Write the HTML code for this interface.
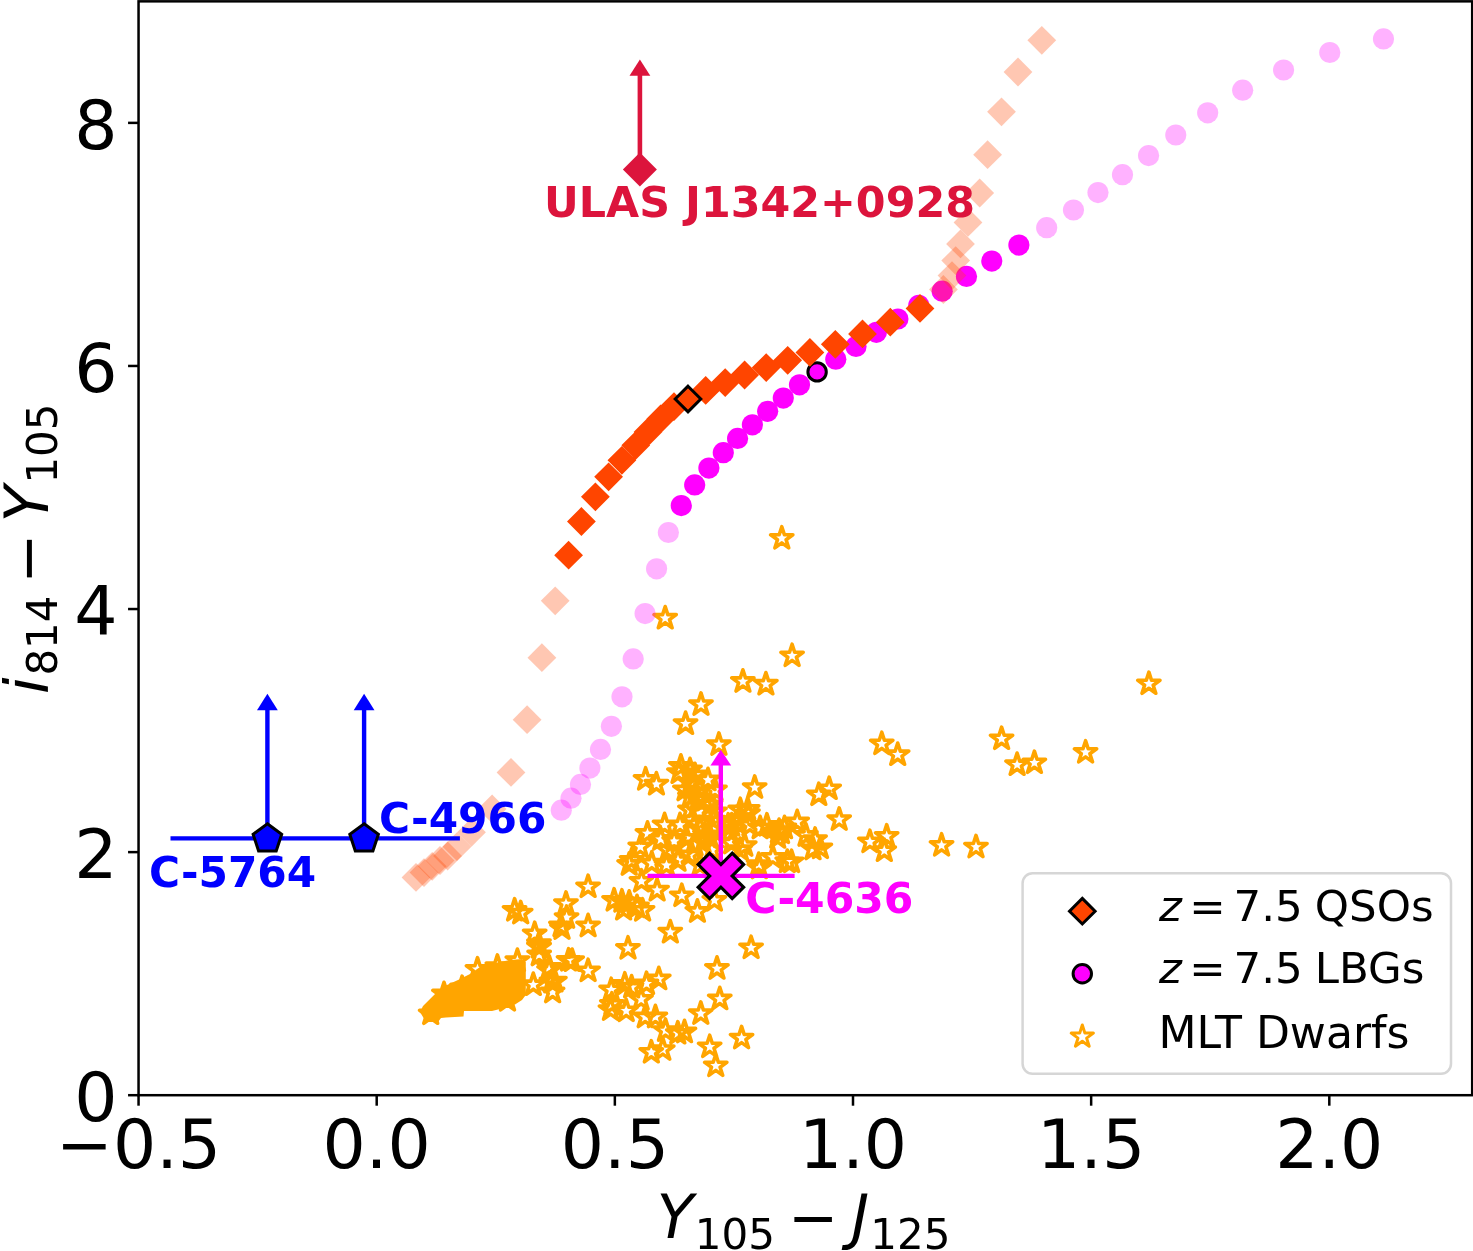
<!DOCTYPE html>
<html><head><meta charset="utf-8"><title>plot</title>
<style>html,body{margin:0;padding:0;background:#fff;}svg{display:block;}</style>
</head><body>
<svg width="1473" height="1251" viewBox="0 0 1473 1251">
<rect x="0" y="0" width="1473" height="1251" fill="#ffffff"/>
<defs><clipPath id="ax"><rect x="138.5" y="1.3" width="1333.6" height="1093.9"/></clipPath></defs>
<g clip-path="url(#ax)">
<path fill="none" stroke="#ffa500" stroke-width="3.6" stroke-linejoin="round" d="M781.8 526.7L784.4 534.8L792.9 534.8L786.1 539.8L788.7 547.9L781.8 542.9L774.9 547.9L777.5 539.8L770.7 534.8L779.2 534.8ZM665.2 606.5L667.8 614.6L676.3 614.6L669.5 619.6L672.1 627.7L665.2 622.7L658.3 627.7L660.9 619.6L654.1 614.6L662.6 614.6ZM792.1 644.2L794.7 652.3L803.2 652.3L796.4 657.3L799.0 665.4L792.1 660.4L785.2 665.4L787.8 657.3L781.0 652.3L789.5 652.3ZM742.9 669.8L745.5 677.9L754.0 677.9L747.2 682.9L749.8 691.0L742.9 686.0L736.0 691.0L738.6 682.9L731.8 677.9L740.3 677.9ZM765.9 672.5L768.5 680.6L777.0 680.6L770.2 685.6L772.8 693.7L765.9 688.7L759.0 693.7L761.6 685.6L754.8 680.6L763.3 680.6ZM701.0 692.9L703.6 701.0L712.1 701.0L705.3 706.0L707.9 714.1L701.0 709.1L694.1 714.1L696.7 706.0L689.9 701.0L698.4 701.0ZM685.6 712.0L688.2 720.1L696.7 720.1L689.9 725.1L692.5 733.2L685.6 728.2L678.7 733.2L681.3 725.1L674.5 720.1L683.0 720.1ZM718.9 732.9L721.5 741.0L730.0 741.0L723.2 746.0L725.8 754.1L718.9 749.1L712.0 754.1L714.6 746.0L707.8 741.0L716.3 741.0ZM645.6 767.7L648.2 775.8L656.7 775.8L649.9 780.8L652.5 788.9L645.6 783.9L638.7 788.9L641.3 780.8L634.5 775.8L643.0 775.8ZM656.4 772.5L659.0 780.6L667.5 780.6L660.7 785.6L663.3 793.7L656.4 788.7L649.5 793.7L652.1 785.6L645.3 780.6L653.8 780.6ZM1148.9 672.1L1151.5 680.2L1160.0 680.2L1153.2 685.2L1155.8 693.3L1148.9 688.3L1142.0 693.3L1144.6 685.2L1137.8 680.2L1146.3 680.2ZM881.8 732.2L884.4 740.3L892.9 740.3L886.1 745.3L888.7 753.4L881.8 748.4L874.9 753.4L877.5 745.3L870.7 740.3L879.2 740.3ZM897.7 743.0L900.3 751.1L908.8 751.1L902.0 756.1L904.6 764.2L897.7 759.2L890.8 764.2L893.4 756.1L886.6 751.1L895.1 751.1ZM1001.6 727.1L1004.2 735.2L1012.7 735.2L1005.9 740.2L1008.5 748.3L1001.6 743.3L994.7 748.3L997.3 740.2L990.5 735.2L999.0 735.2ZM1017.1 753.0L1019.7 761.1L1028.2 761.1L1021.4 766.1L1024.0 774.2L1017.1 769.2L1010.2 774.2L1012.8 766.1L1006.0 761.1L1014.5 761.1ZM1034.4 751.1L1037.0 759.2L1045.5 759.2L1038.7 764.2L1041.3 772.3L1034.4 767.3L1027.5 772.3L1030.1 764.2L1023.3 759.2L1031.8 759.2ZM1085.6 740.7L1088.2 748.8L1096.7 748.8L1089.9 753.8L1092.5 761.9L1085.6 756.9L1078.7 761.9L1081.3 753.8L1074.5 748.8L1083.0 748.8ZM941.6 833.7L944.2 841.8L952.7 841.8L945.9 846.8L948.5 854.9L941.6 849.9L934.7 854.9L937.3 846.8L930.5 841.8L939.0 841.8ZM976.0 835.4L978.6 843.5L987.1 843.5L980.3 848.5L982.9 856.6L976.0 851.6L969.1 856.6L971.7 848.5L964.9 843.5L973.4 843.5ZM869.9 830.2L872.5 838.3L881.0 838.3L874.2 843.3L876.8 851.4L869.9 846.4L863.0 851.4L865.6 843.3L858.8 838.3L867.3 838.3ZM886.7 824.6L889.3 832.7L897.8 832.7L891.0 837.7L893.6 845.8L886.7 840.8L879.8 845.8L882.4 837.7L875.6 832.7L884.1 832.7ZM884.3 839.0L886.9 847.1L895.4 847.1L888.6 852.1L891.2 860.2L884.3 855.2L877.4 860.2L880.0 852.1L873.2 847.1L881.7 847.1ZM754.7 775.9L757.3 784.0L765.8 784.0L759.0 789.0L761.6 797.1L754.7 792.1L747.8 797.1L750.4 789.0L743.6 784.0L752.1 784.0ZM829.2 777.1L831.8 785.2L840.3 785.2L833.5 790.2L836.1 798.3L829.2 793.3L822.3 798.3L824.9 790.2L818.1 785.2L826.6 785.2ZM818.8 783.1L821.4 791.2L829.9 791.2L823.1 796.2L825.7 804.3L818.8 799.3L811.9 804.3L814.5 796.2L807.7 791.2L816.2 791.2ZM839.2 807.9L841.8 816.0L850.3 816.0L843.5 821.0L846.1 829.1L839.2 824.1L832.3 829.1L834.9 821.0L828.1 816.0L836.6 816.0ZM797.2 810.3L799.8 818.4L808.3 818.4L801.5 823.4L804.1 831.5L797.2 826.5L790.3 831.5L792.9 823.4L786.1 818.4L794.6 818.4ZM766.9 813.6L769.5 821.7L778.0 821.7L771.2 826.7L773.8 834.8L766.9 829.8L760.0 834.8L762.6 826.7L755.8 821.7L764.3 821.7ZM778.4 820.6L781.0 828.7L789.5 828.7L782.7 833.7L785.3 841.8L778.4 836.8L771.5 841.8L774.1 833.7L767.3 828.7L775.8 828.7ZM806.0 823.8L808.6 831.9L817.1 831.9L810.3 836.9L812.9 845.0L806.0 840.0L799.1 845.0L801.7 836.9L794.9 831.9L803.4 831.9ZM820.4 836.2L823.0 844.3L831.5 844.3L824.7 849.3L827.3 857.4L820.4 852.4L813.5 857.4L816.1 849.3L809.3 844.3L817.8 844.3ZM772.9 845.7L775.5 853.8L784.0 853.8L777.2 858.8L779.8 866.9L772.9 861.9L766.0 866.9L768.6 858.8L761.8 853.8L770.3 853.8ZM787.3 850.0L789.9 858.1L798.4 858.1L791.6 863.1L794.2 871.2L787.3 866.2L780.4 871.2L783.0 863.1L776.2 858.1L784.7 858.1ZM759.3 856.3L761.9 864.4L770.4 864.4L763.6 869.4L766.2 877.5L759.3 872.5L752.4 877.5L755.0 869.4L748.2 864.4L756.7 864.4ZM747.7 797.6L750.3 805.7L758.8 805.7L752.0 810.7L754.6 818.8L747.7 813.8L740.8 818.8L743.4 810.7L736.6 805.7L745.1 805.7ZM744.8 833.9L747.4 842.0L755.9 842.0L749.1 847.0L751.7 855.1L744.8 850.1L737.9 855.1L740.5 847.0L733.7 842.0L742.2 842.0ZM791.6 850.2L794.2 858.3L802.7 858.3L795.9 863.3L798.5 871.4L791.6 866.4L784.7 871.4L787.3 863.3L780.5 858.3L789.0 858.3ZM740.3 798.2L742.9 806.3L751.4 806.3L744.6 811.3L747.2 819.4L740.3 814.4L733.4 819.4L736.0 811.3L729.2 806.3L737.7 806.3ZM748.0 802.0L750.6 810.1L759.1 810.1L752.3 815.1L754.9 823.2L748.0 818.2L741.1 823.2L743.7 815.1L736.9 810.1L745.4 810.1ZM781.5 821.2L784.1 829.3L792.6 829.3L785.8 834.3L788.4 842.4L781.5 837.4L774.6 842.4L777.2 834.3L770.4 829.3L778.9 829.3ZM815.1 827.9L817.7 836.0L826.2 836.0L819.4 841.0L822.0 849.1L815.1 844.1L808.2 849.1L810.8 841.0L804.0 836.0L812.5 836.0ZM731.7 813.5L734.3 821.6L742.8 821.6L736.0 826.6L738.6 834.7L731.7 829.7L724.8 834.7L727.4 826.6L720.6 821.6L729.1 821.6ZM647.5 821.8L650.1 829.9L658.6 829.9L651.8 834.9L654.4 843.0L647.5 838.0L640.6 843.0L643.2 834.9L636.4 829.9L644.9 829.9ZM640.3 835.2L642.9 843.3L651.4 843.3L644.6 848.3L647.2 856.4L640.3 851.4L633.4 856.4L636.0 848.3L629.2 843.3L637.7 843.3ZM631.7 848.6L634.3 856.7L642.8 856.7L636.0 861.7L638.6 869.8L631.7 864.8L624.8 869.8L627.4 861.7L620.6 856.7L629.1 856.7ZM651.8 851.5L654.4 859.6L662.9 859.6L656.1 864.6L658.7 872.7L651.8 867.7L644.9 872.7L647.5 864.6L640.7 859.6L649.2 859.6ZM628.0 936.7L630.6 944.8L639.1 944.8L632.3 949.8L634.9 957.9L628.0 952.9L621.1 957.9L623.7 949.8L616.9 944.8L625.4 944.8ZM670.3 920.5L672.9 928.6L681.4 928.6L674.6 933.6L677.2 941.7L670.3 936.7L663.4 941.7L666.0 933.6L659.2 928.6L667.7 928.6ZM681.8 884.1L684.4 892.2L692.9 892.2L686.1 897.2L688.7 905.3L681.8 900.3L674.9 905.3L677.5 897.2L670.7 892.2L679.2 892.2ZM697.4 899.8L700.0 907.9L708.5 907.9L701.7 912.9L704.3 921.0L697.4 916.0L690.5 921.0L693.1 912.9L686.3 907.9L694.8 907.9ZM714.4 888.7L717.0 896.8L725.5 896.8L718.7 901.8L721.3 909.9L714.4 904.9L707.5 909.9L710.1 901.8L703.3 896.8L711.8 896.8ZM717.0 956.8L719.6 964.9L728.1 964.9L721.3 969.9L723.9 978.0L717.0 973.0L710.1 978.0L712.7 969.9L705.9 964.9L714.4 964.9ZM719.8 987.3L722.4 995.4L730.9 995.4L724.1 1000.4L726.7 1008.5L719.8 1003.5L712.9 1008.5L715.5 1000.4L708.7 995.4L717.2 995.4ZM614.1 888.6L616.7 896.7L625.2 896.7L618.4 901.7L621.0 909.8L614.1 904.8L607.2 909.8L609.8 901.7L603.0 896.7L611.5 896.7ZM621.9 889.7L624.5 897.8L633.0 897.8L626.2 902.8L628.8 910.9L621.9 905.9L615.0 910.9L617.6 902.8L610.8 897.8L619.3 897.8ZM629.2 890.8L631.8 898.9L640.3 898.9L633.5 903.9L636.1 912.0L629.2 907.0L622.3 912.0L624.9 903.9L618.1 898.9L626.6 898.9ZM637.0 895.3L639.6 903.4L648.1 903.4L641.3 908.4L643.9 916.5L637.0 911.5L630.1 916.5L632.7 908.4L625.9 903.4L634.4 903.4ZM642.6 898.7L645.2 906.8L653.7 906.8L646.9 911.8L649.5 919.9L642.6 914.9L635.7 919.9L638.3 911.8L631.5 906.8L640.0 906.8ZM623.6 897.5L626.2 905.6L634.7 905.6L627.9 910.6L630.5 918.7L623.6 913.7L616.7 918.7L619.3 910.6L612.5 905.6L621.0 905.6ZM629.2 852.8L631.8 860.9L640.3 860.9L633.5 865.9L636.1 874.0L629.2 869.0L622.3 874.0L624.9 865.9L618.1 860.9L626.6 860.9ZM641.5 869.6L644.1 877.7L652.6 877.7L645.8 882.7L648.4 890.8L641.5 885.8L634.6 890.8L637.2 882.7L630.4 877.7L638.9 877.7ZM657.1 878.5L659.7 886.6L668.2 886.6L661.4 891.6L664.0 899.7L657.1 894.7L650.2 899.7L652.8 891.6L646.0 886.6L654.5 886.6ZM751.1 936.2L753.7 944.3L762.2 944.3L755.4 949.3L758.0 957.4L751.1 952.4L744.2 957.4L746.8 949.3L740.0 944.3L748.5 944.3ZM700.8 1001.9L703.4 1010.0L711.9 1010.0L705.1 1015.0L707.7 1023.1L700.8 1018.1L693.9 1023.1L696.5 1015.0L689.7 1010.0L698.2 1010.0ZM741.6 1026.4L744.2 1034.5L752.7 1034.5L745.9 1039.5L748.5 1047.6L741.6 1042.6L734.7 1047.6L737.3 1039.5L730.5 1034.5L739.0 1034.5ZM709.7 1035.2L712.3 1043.3L720.8 1043.3L714.0 1048.3L716.6 1056.4L709.7 1051.4L702.8 1056.4L705.4 1048.3L698.6 1043.3L707.1 1043.3ZM715.8 1054.2L718.4 1062.3L726.9 1062.3L720.1 1067.3L722.7 1075.4L715.8 1070.4L708.9 1075.4L711.5 1067.3L704.7 1062.3L713.2 1062.3ZM651.3 1040.6L653.9 1048.7L662.4 1048.7L655.6 1053.7L658.2 1061.8L651.3 1056.8L644.4 1061.8L647.0 1053.7L640.2 1048.7L648.7 1048.7ZM662.8 1037.9L665.4 1046.0L673.9 1046.0L667.1 1051.0L669.7 1059.1L662.8 1054.1L655.9 1059.1L658.5 1051.0L651.7 1046.0L660.2 1046.0ZM665.5 1018.9L668.1 1027.0L676.6 1027.0L669.8 1032.0L672.4 1040.1L665.5 1035.1L658.6 1040.1L661.2 1032.0L654.4 1027.0L662.9 1027.0ZM684.5 1020.3L687.1 1028.4L695.6 1028.4L688.8 1033.4L691.4 1041.5L684.5 1036.5L677.6 1041.5L680.2 1033.4L673.4 1028.4L681.9 1028.4ZM677.8 1021.6L680.4 1029.7L688.9 1029.7L682.1 1034.7L684.7 1042.8L677.8 1037.8L670.9 1042.8L673.5 1034.7L666.7 1029.7L675.2 1029.7ZM655.4 1005.3L658.0 1013.4L666.5 1013.4L659.7 1018.4L662.3 1026.5L655.4 1021.5L648.5 1026.5L651.1 1018.4L644.3 1013.4L652.8 1013.4ZM645.2 1005.3L647.8 1013.4L656.3 1013.4L649.5 1018.4L652.1 1026.5L645.2 1021.5L638.3 1026.5L640.9 1018.4L634.1 1013.4L642.6 1013.4ZM626.2 999.2L628.8 1007.3L637.3 1007.3L630.5 1012.3L633.1 1020.4L626.2 1015.4L619.3 1020.4L621.9 1012.3L615.1 1007.3L623.6 1007.3ZM610.5 997.9L613.1 1006.0L621.6 1006.0L614.8 1011.0L617.4 1019.1L610.5 1014.1L603.6 1019.1L606.2 1011.0L599.4 1006.0L607.9 1006.0ZM611.2 978.2L613.8 986.3L622.3 986.3L615.5 991.3L618.1 999.4L611.2 994.4L604.3 999.4L606.9 991.3L600.1 986.3L608.6 986.3ZM624.8 972.7L627.4 980.8L635.9 980.8L629.1 985.8L631.7 993.9L624.8 988.9L617.9 993.9L620.5 985.8L613.7 980.8L622.2 980.8ZM631.6 975.5L634.2 983.6L642.7 983.6L635.9 988.6L638.5 996.7L631.6 991.7L624.7 996.7L627.3 988.6L620.5 983.6L629.0 983.6ZM646.5 972.1L649.1 980.2L657.6 980.2L650.8 985.2L653.4 993.3L646.5 988.3L639.6 993.3L642.2 985.2L635.4 980.2L643.9 980.2ZM658.8 967.3L661.4 975.4L669.9 975.4L663.1 980.4L665.7 988.5L658.8 983.5L651.9 988.5L654.5 980.4L647.7 975.4L656.2 975.4ZM641.1 987.7L643.7 995.8L652.2 995.8L645.4 1000.8L648.0 1008.9L641.1 1003.9L634.2 1008.9L636.8 1000.8L630.0 995.8L638.5 995.8ZM588.1 959.2L590.7 967.3L599.2 967.3L592.4 972.3L595.0 980.4L588.1 975.4L581.2 980.4L583.8 972.3L577.0 967.3L585.5 967.3ZM588.1 875.1L590.7 883.2L599.2 883.2L592.4 888.2L595.0 896.3L588.1 891.3L581.2 896.3L583.8 888.2L577.0 883.2L585.5 883.2ZM566.0 891.9L568.6 900.0L577.1 900.0L570.3 905.0L572.9 913.1L566.0 908.1L559.1 913.1L561.7 905.0L554.9 900.0L563.4 900.0ZM514.6 898.6L517.2 906.7L525.7 906.7L518.9 911.7L521.5 919.8L514.6 914.8L507.7 919.8L510.3 911.7L503.5 906.7L512.0 906.7ZM520.7 901.4L523.3 909.5L531.8 909.5L525.0 914.5L527.6 922.6L520.7 917.6L513.8 922.6L516.4 914.5L509.6 909.5L518.1 909.5ZM534.7 922.1L537.3 930.2L545.8 930.2L539.0 935.2L541.6 943.3L534.7 938.3L527.8 943.3L530.4 935.2L523.6 930.2L532.1 930.2ZM566.6 905.9L569.2 914.0L577.7 914.0L570.9 919.0L573.5 927.1L566.6 922.1L559.7 927.1L562.3 919.0L555.5 914.0L564.0 914.0ZM561.0 914.3L563.6 922.4L572.1 922.4L565.3 927.4L567.9 935.5L561.0 930.5L554.1 935.5L556.7 927.4L549.9 922.4L558.4 922.4ZM588.1 914.3L590.7 922.4L599.2 922.4L592.4 927.4L595.0 935.5L588.1 930.5L581.2 935.5L583.8 927.4L577.0 922.4L585.5 922.4ZM539.2 935.5L541.8 943.6L550.3 943.6L543.5 948.6L546.1 956.7L539.2 951.7L532.3 956.7L534.9 948.6L528.1 943.6L536.6 943.6ZM539.2 943.3L541.8 951.4L550.3 951.4L543.5 956.4L546.1 964.5L539.2 959.5L532.3 964.5L534.9 956.4L528.1 951.4L536.6 951.4ZM549.3 955.7L551.9 963.8L560.4 963.8L553.6 968.8L556.2 976.9L549.3 971.9L542.4 976.9L545.0 968.8L538.2 963.8L546.7 963.8ZM551.5 970.3L554.1 978.4L562.6 978.4L555.8 983.4L558.4 991.5L551.5 986.5L544.6 991.5L547.2 983.4L540.4 978.4L548.9 978.4ZM552.6 980.3L555.2 988.4L563.7 988.4L556.9 993.4L559.5 1001.5L552.6 996.5L545.7 1001.5L548.3 993.4L541.5 988.4L550.0 988.4ZM517.4 949.0L520.0 957.1L528.5 957.1L521.7 962.1L524.3 970.2L517.4 965.2L510.5 970.2L513.1 962.1L506.3 957.1L514.8 957.1ZM572.2 949.0L574.8 957.1L583.3 957.1L576.5 962.1L579.1 970.2L572.2 965.2L565.3 970.2L567.9 962.1L561.1 957.1L569.6 957.1ZM611.9 992.6L614.5 1000.7L623.0 1000.7L616.2 1005.7L618.8 1013.8L611.9 1008.8L605.0 1013.8L607.6 1005.7L600.8 1000.7L609.3 1000.7ZM430.7 1002.1L433.3 1010.2L441.8 1010.2L435.0 1015.2L437.6 1023.3L430.7 1018.3L423.8 1023.3L426.4 1015.2L419.6 1010.2L428.1 1010.2ZM444.0 982.3L446.6 990.4L455.1 990.4L448.3 995.4L450.9 1003.5L444.0 998.5L437.1 1003.5L439.7 995.4L432.9 990.4L441.4 990.4ZM462.1 976.1L464.7 984.2L473.2 984.2L466.4 989.2L469.0 997.3L462.1 992.3L455.2 997.3L457.8 989.2L451.0 984.2L459.5 984.2ZM477.5 957.6L480.1 965.7L488.6 965.7L481.8 970.7L484.4 978.8L477.5 973.8L470.6 978.8L473.2 970.7L466.4 965.7L474.9 965.7ZM497.4 954.9L500.0 963.0L508.5 963.0L501.7 968.0L504.3 976.1L497.4 971.1L490.5 976.1L493.1 968.0L486.3 963.0L494.8 963.0ZM507.5 988.7L510.1 996.8L518.6 996.8L511.8 1001.8L514.4 1009.9L507.5 1004.9L500.6 1009.9L503.2 1001.8L496.4 996.8L504.9 996.8ZM539.0 932.0L541.6 940.1L550.1 940.1L543.3 945.1L545.9 953.2L539.0 948.2L532.1 953.2L534.7 945.1L527.9 940.1L536.4 940.1ZM549.1 958.7L551.7 966.8L560.2 966.8L553.4 971.8L556.0 979.9L549.1 974.9L542.2 979.9L544.8 971.8L538.0 966.8L546.5 966.8ZM554.9 969.5L557.5 977.6L566.0 977.6L559.2 982.6L561.8 990.7L554.9 985.7L548.0 990.7L550.6 982.6L543.8 977.6L552.3 977.6ZM533.3 973.0L535.9 981.1L544.4 981.1L537.6 986.1L540.2 994.2L533.3 989.2L526.4 994.2L529.0 986.1L522.2 981.1L530.7 981.1ZM562.0 916.9L564.6 925.0L573.1 925.0L566.3 930.0L568.9 938.1L562.0 933.1L555.1 938.1L557.7 930.0L550.9 925.0L559.4 925.0ZM568.6 948.6L571.2 956.7L579.7 956.7L572.9 961.7L575.5 969.8L568.6 964.8L561.7 969.8L564.3 961.7L557.5 956.7L566.0 956.7ZM680.9 754.8L683.5 762.9L692.0 762.9L685.2 767.9L687.8 776.0L680.9 771.0L674.0 776.0L676.6 767.9L669.8 762.9L678.3 762.9ZM679.0 761.0L681.6 769.1L690.1 769.1L683.3 774.1L685.9 782.2L679.0 777.2L672.1 782.2L674.7 774.1L667.9 769.1L676.4 769.1ZM690.5 771.1L693.1 779.2L701.6 779.2L694.8 784.2L697.4 792.3L690.5 787.3L683.6 792.3L686.2 784.2L679.4 779.2L687.9 779.2ZM698.2 786.5L700.8 794.6L709.3 794.6L702.5 799.6L705.1 807.7L698.2 802.7L691.3 807.7L693.9 799.6L687.1 794.6L695.6 794.6ZM710.6 793.2L713.2 801.3L721.7 801.3L714.9 806.3L717.5 814.4L710.6 809.4L703.7 814.4L706.3 806.3L699.5 801.3L708.0 801.3ZM699.1 799.9L701.7 808.0L710.2 808.0L703.4 813.0L706.0 821.1L699.1 816.1L692.2 821.1L694.8 813.0L688.0 808.0L696.5 808.0ZM713.5 808.5L716.1 816.6L724.6 816.6L717.8 821.6L720.4 829.7L713.5 824.7L706.6 829.7L709.2 821.6L702.4 816.6L710.9 816.6ZM700.1 817.2L702.7 825.3L711.2 825.3L704.4 830.3L707.0 838.4L700.1 833.4L693.2 838.4L695.8 830.3L689.0 825.3L697.5 825.3ZM712.6 818.1L715.2 826.2L723.7 826.2L716.9 831.2L719.5 839.3L712.6 834.3L705.7 839.3L708.3 831.2L701.5 826.2L710.0 826.2ZM686.7 826.8L689.3 834.9L697.8 834.9L691.0 839.9L693.6 848.0L686.7 843.0L679.8 848.0L682.4 839.9L675.6 834.9L684.1 834.9ZM710.6 826.8L713.2 834.9L721.7 834.9L714.9 839.9L717.5 848.0L710.6 843.0L703.7 848.0L706.3 839.9L699.5 834.9L708.0 834.9ZM664.6 813.3L667.2 821.4L675.7 821.4L668.9 826.4L671.5 834.5L664.6 829.5L657.7 834.5L660.3 826.4L653.5 821.4L662.0 821.4ZM660.8 827.7L663.4 835.8L671.9 835.8L665.1 840.8L667.7 848.9L660.8 843.9L653.9 848.9L656.5 840.8L649.7 835.8L658.2 835.8ZM678.0 848.8L680.6 856.9L689.1 856.9L682.3 861.9L684.9 870.0L678.0 865.0L671.1 870.0L673.7 861.9L666.9 856.9L675.4 856.9ZM666.5 853.6L669.1 861.7L677.6 861.7L670.8 866.7L673.4 874.8L666.5 869.8L659.6 874.8L662.2 866.7L655.4 861.7L663.9 861.7ZM674.2 829.6L676.8 837.7L685.3 837.7L678.5 842.7L681.1 850.8L674.2 845.8L667.3 850.8L669.9 842.7L663.1 837.7L671.6 837.7ZM690.0 758.3L692.6 766.4L701.1 766.4L694.3 771.4L696.9 779.5L690.0 774.5L683.1 779.5L685.7 771.4L678.9 766.4L687.4 766.4ZM700.0 778.3L702.6 786.4L711.1 786.4L704.3 791.4L706.9 799.5L700.0 794.5L693.1 799.5L695.7 791.4L688.9 786.4L697.4 786.4ZM690.0 785.3L692.6 793.4L701.1 793.4L694.3 798.4L696.9 806.5L690.0 801.5L683.1 806.5L685.7 798.4L678.9 793.4L687.4 793.4ZM692.0 808.3L694.6 816.4L703.1 816.4L696.3 821.4L698.9 829.5L692.0 824.5L685.1 829.5L687.7 821.4L680.9 816.4L689.4 816.4ZM680.0 813.3L682.6 821.4L691.1 821.4L684.3 826.4L686.9 834.5L680.0 829.5L673.1 834.5L675.7 826.4L668.9 821.4L677.4 821.4ZM703.0 830.3L705.6 838.4L714.1 838.4L707.3 843.4L709.9 851.5L703.0 846.5L696.1 851.5L698.7 843.4L691.9 838.4L700.4 838.4ZM690.0 843.3L692.6 851.4L701.1 851.4L694.3 856.4L696.9 864.5L690.0 859.5L683.1 864.5L685.7 856.4L678.9 851.4L687.4 851.4ZM700.0 853.3L702.6 861.4L711.1 861.4L704.3 866.4L706.9 874.5L700.0 869.5L693.1 874.5L695.7 866.4L688.9 861.4L697.4 861.4ZM668.0 838.3L670.6 846.4L679.1 846.4L672.3 851.4L674.9 859.5L668.0 854.5L661.1 859.5L663.7 851.4L656.9 846.4L665.4 846.4ZM708.0 768.3L710.6 776.4L719.1 776.4L712.3 781.4L714.9 789.5L708.0 784.5L701.1 789.5L703.7 781.4L696.9 776.4L705.4 776.4ZM715.0 778.3L717.6 786.4L726.1 786.4L719.3 791.4L721.9 799.5L715.0 794.5L708.1 799.5L710.7 791.4L703.9 786.4L712.4 786.4ZM695.0 763.3L697.6 771.4L706.1 771.4L699.3 776.4L701.9 784.5L695.0 779.5L688.1 784.5L690.7 776.4L683.9 771.4L692.4 771.4ZM705.0 788.3L707.6 796.4L716.1 796.4L709.3 801.4L711.9 809.5L705.0 804.5L698.1 809.5L700.7 801.4L693.9 796.4L702.4 796.4ZM690.0 798.3L692.6 806.4L701.1 806.4L694.3 811.4L696.9 819.5L690.0 814.5L683.1 819.5L685.7 811.4L678.9 806.4L687.4 806.4ZM715.0 800.3L717.6 808.4L726.1 808.4L719.3 813.4L721.9 821.5L715.0 816.5L708.1 821.5L710.7 813.4L703.9 808.4L712.4 808.4ZM705.0 823.3L707.6 831.4L716.1 831.4L709.3 836.4L711.9 844.5L705.0 839.5L698.1 844.5L700.7 836.4L693.9 831.4L702.4 831.4ZM695.0 833.3L697.6 841.4L706.1 841.4L699.3 846.4L701.9 854.5L695.0 849.5L688.1 854.5L690.7 846.4L683.9 841.4L692.4 841.4ZM712.0 838.3L714.6 846.4L723.1 846.4L716.3 851.4L718.9 859.5L712.0 854.5L705.1 859.5L707.7 851.4L700.9 846.4L709.4 846.4ZM685.0 778.3L687.6 786.4L696.1 786.4L689.3 791.4L691.9 799.5L685.0 794.5L678.1 799.5L680.7 791.4L673.9 786.4L682.4 786.4ZM728.2 813.6L730.8 821.7L739.3 821.7L732.5 826.7L735.1 834.8L728.2 829.8L721.3 834.8L723.9 826.7L717.1 821.7L725.6 821.7ZM730.2 820.4L732.8 828.5L741.3 828.5L734.5 833.5L737.1 841.6L730.2 836.6L723.3 841.6L725.9 833.5L719.1 828.5L727.6 828.5ZM736.3 810.9L738.9 819.0L747.4 819.0L740.6 824.0L743.2 832.1L736.3 827.1L729.4 832.1L732.0 824.0L725.2 819.0L733.7 819.0ZM749.9 813.6L752.5 821.7L761.0 821.7L754.2 826.7L756.8 834.8L749.9 829.8L743.0 834.8L745.6 826.7L738.8 821.7L747.3 821.7ZM760.1 816.3L762.7 824.4L771.2 824.4L764.4 829.4L767.0 837.5L760.1 832.5L753.2 837.5L755.8 829.4L749.0 824.4L757.5 824.4ZM784.5 816.3L787.1 824.4L795.6 824.4L788.8 829.4L791.4 837.5L784.5 832.5L777.6 837.5L780.2 829.4L773.4 824.4L781.9 824.4ZM777.7 825.8L780.3 833.9L788.8 833.9L782.0 838.9L784.6 847.0L777.7 842.0L770.8 847.0L773.4 838.9L766.6 833.9L775.1 833.9ZM731.6 831.3L734.2 839.4L742.7 839.4L735.9 844.4L738.5 852.5L731.6 847.5L724.7 852.5L727.3 844.4L720.5 839.4L729.0 839.4ZM740.4 838.0L743.0 846.1L751.5 846.1L744.7 851.1L747.3 859.2L740.4 854.2L733.5 859.2L736.1 851.1L729.3 846.1L737.8 846.1ZM758.7 853.0L761.3 861.1L769.8 861.1L763.0 866.1L765.6 874.2L758.7 869.2L751.8 874.2L754.4 866.1L747.6 861.1L756.1 861.1ZM813.0 837.3L815.6 845.4L824.1 845.4L817.3 850.4L819.9 858.5L813.0 853.5L806.1 858.5L808.7 850.4L801.9 845.4L810.4 845.4ZM779.1 819.0L781.7 827.1L790.2 827.1L783.4 832.1L786.0 840.2L779.1 835.2L772.2 840.2L774.8 832.1L768.0 827.1L776.5 827.1Z"/>
<path fill="#ffa500" d="M423 1006L436 993L447 985L458 980L470 974L480 967L495 963L510 960L522 959L525.8 962L525.8 995L522 1000L515 1004.5L500 1009L492 1011L464 1011L463.5 1016.5L446 1017.5L441 1018L438 1022L426 1022L420 1012Z"/>
<g fill="#ff00ff"><circle cx="681.3" cy="505.6" r="10.6"/><circle cx="694.7" cy="484.9" r="10.6"/><circle cx="708.9" cy="468.1" r="10.6"/><circle cx="723.3" cy="452.7" r="10.6"/><circle cx="737.6" cy="438.4" r="10.6"/><circle cx="752.4" cy="424.8" r="10.6"/><circle cx="767.7" cy="411.3" r="10.6"/><circle cx="783.3" cy="398.1" r="10.6"/><circle cx="799.5" cy="384.8" r="10.6"/><circle cx="835.8" cy="359.2" r="10.6"/><circle cx="856" cy="346.5" r="10.6"/><circle cx="876.4" cy="332.3" r="10.6"/><circle cx="897.9" cy="319" r="10.6"/><circle cx="918.8" cy="305.3" r="10.6"/><circle cx="942.2" cy="291.2" r="10.6"/><circle cx="966.5" cy="276.4" r="10.6"/><circle cx="991.8" cy="261.1" r="10.6"/><circle cx="1018.9" cy="245.1" r="10.6"/></g>
<circle cx="817.1" cy="371.9" r="9.2" fill="#ff00ff" stroke="#000" stroke-width="3"/>
<path fill="#ff4500" d="M568.6 540.8L583.0 555.2L568.6 569.6L554.2 555.2ZM581.4 507.1L595.8 521.5L581.4 535.9L567.0 521.5ZM595.4 482.4L609.8 496.8L595.4 511.2L581.0 496.8ZM608.6 462.4L623.0 476.8L608.6 491.2L594.2 476.8ZM621.9 445.9L636.3 460.3L621.9 474.7L607.5 460.3ZM635.8 430.9L650.2 445.3L635.8 459.7L621.4 445.3ZM648.0 417.6L662.4 432.0L648.0 446.4L633.6 432.0ZM660.6 404.6L675.0 419.0L660.6 433.4L646.2 419.0ZM674.0 392.2L688.4 406.6L674.0 421.0L659.6 406.6ZM705.7 376.0L720.1 390.4L705.7 404.8L691.3 390.4ZM725.2 368.2L739.6 382.6L725.2 397.0L710.8 382.6ZM744.6 360.6L759.0 375.0L744.6 389.4L730.2 375.0ZM766.2 353.2L780.6 367.6L766.2 382.0L751.8 367.6ZM787.7 345.9L802.1 360.3L787.7 374.7L773.3 360.3ZM809.9 338.0L824.3 352.4L809.9 366.8L795.5 352.4ZM835.3 329.9L849.7 344.3L835.3 358.7L820.9 344.3ZM862.5 319.5L876.9 333.9L862.5 348.3L848.1 333.9ZM890.3 307.8L904.7 322.2L890.3 336.6L875.9 322.2ZM920.0 294.0L934.4 308.4L920.0 322.8L905.6 308.4Z"/>
<path fill="#ff4500" stroke="#000" stroke-width="3" d="M688.0 386.2L700.8 399.0L688.0 411.8L675.2 399.0Z"/>
<g fill="#ff4500" fill-opacity="0.3"><path d="M416.0 863.0L430.4 877.4L416.0 891.8L401.6 877.4Z"/><path d="M424.0 858.2L438.4 872.6L424.0 887.0L409.6 872.6Z"/><path d="M432.2 851.9L446.6 866.3L432.2 880.7L417.8 866.3Z"/><path d="M440.0 846.1L454.4 860.5L440.0 874.9L425.6 860.5Z"/><path d="M447.6 841.6L462.0 856.0L447.6 870.4L433.2 856.0Z"/><path d="M457.0 832.3L471.4 846.7L457.0 861.1L442.6 846.7Z"/><path d="M471.5 817.9L485.9 832.3L471.5 846.7L457.1 832.3Z"/><path d="M492.1 794.5L506.5 808.9L492.1 823.3L477.7 808.9Z"/><path d="M511.0 758.0L525.4 772.4L511.0 786.8L496.6 772.4Z"/><path d="M527.1 705.3L541.5 719.7L527.1 734.1L512.7 719.7Z"/><path d="M541.9 643.3L556.3 657.7L541.9 672.1L527.5 657.7Z"/><path d="M555.2 586.4L569.6 600.8L555.2 615.2L540.8 600.8Z"/><path d="M943.4 275.1L957.8 289.5L943.4 303.9L929.0 289.5Z"/><path d="M952.0 261.2L966.4 275.6L952.0 290.0L937.6 275.6Z"/><path d="M955.7 246.2L970.1 260.6L955.7 275.0L941.3 260.6Z"/><path d="M960.5 229.5L974.9 243.9L960.5 258.3L946.1 243.9Z"/><path d="M968.0 208.0L982.4 222.4L968.0 236.8L953.6 222.4Z"/><path d="M979.7 178.6L994.1 193.0L979.7 207.4L965.3 193.0Z"/><path d="M987.6 140.3L1002.0 154.7L987.6 169.1L973.2 154.7Z"/><path d="M1001.5 97.4L1015.9 111.8L1001.5 126.2L987.1 111.8Z"/><path d="M1018.0 57.6L1032.4 72.0L1018.0 86.5L1003.6 72.0Z"/><path d="M1041.8 25.9L1056.2 40.3L1041.8 54.7L1027.4 40.3Z"/></g>
<g fill="#ff00ff" fill-opacity="0.3"><circle cx="668.4" cy="532.5" r="10.6"/><circle cx="656.6" cy="568.8" r="10.6"/><circle cx="645.1" cy="613.6" r="10.6"/><circle cx="633.2" cy="658.9" r="10.6"/><circle cx="622" cy="696.8" r="10.6"/><circle cx="611.4" cy="726.3" r="10.6"/><circle cx="600.5" cy="749.4" r="10.6"/><circle cx="589.9" cy="768.1" r="10.6"/><circle cx="580.5" cy="784.4" r="10.6"/><circle cx="571" cy="798.2" r="10.6"/><circle cx="561.3" cy="810.2" r="10.6"/><circle cx="1046.7" cy="227.7" r="10.6"/><circle cx="1073.5" cy="210" r="10.6"/><circle cx="1098" cy="192.6" r="10.6"/><circle cx="1122.5" cy="174.7" r="10.6"/><circle cx="1148.6" cy="155.6" r="10.6"/><circle cx="1175.8" cy="135" r="10.6"/><circle cx="1207.7" cy="112.8" r="10.6"/><circle cx="1242.7" cy="90.2" r="10.6"/><circle cx="1283.6" cy="70" r="10.6"/><circle cx="1329.8" cy="52.5" r="10.6"/><circle cx="1383.5" cy="38.9" r="10.6"/></g>
</g>
<line x1="639.9" y1="169.4" x2="639.9" y2="74" stroke="#dc143c" stroke-width="4.6"/>
<path fill="#dc143c" d="M639.9 59.5L650.3 75.7L629.5 75.7Z"/>
<path fill="#dc143c" d="M639.9 152.4L656.9 169.4L639.9 186.4L622.9 169.4Z"/>
<line x1="170.5" y1="838.3" x2="459.9" y2="838.3" stroke="#0000ff" stroke-width="4.3"/>
<line x1="267.4" y1="838.3" x2="267.4" y2="708" stroke="#0000ff" stroke-width="4.4"/>
<path fill="#0000ff" d="M267.4 693.7L277.8 710.2L257.0 710.2Z"/>
<path fill="#0000ff" stroke="#000" stroke-width="3" stroke-linejoin="miter" d="M267.4 823.8L281.7 834.2L276.2 850.9L258.6 850.9L253.1 834.2Z"/>
<line x1="364.1" y1="838.3" x2="364.1" y2="708" stroke="#0000ff" stroke-width="4.4"/>
<path fill="#0000ff" d="M364.1 693.7L374.5 710.2L353.7 710.2Z"/>
<path fill="#0000ff" stroke="#000" stroke-width="3" stroke-linejoin="miter" d="M364.1 823.8L378.4 834.2L372.9 850.9L355.3 850.9L349.8 834.2Z"/>
<line x1="647.5" y1="875.9" x2="794.6" y2="875.9" stroke="#ff00ff" stroke-width="4.2"/>
<line x1="720.8" y1="875.9" x2="720.8" y2="764" stroke="#ff00ff" stroke-width="4.4"/>
<path fill="#ff00ff" d="M720.8 749.8L731.2 765.6L710.4 765.6Z"/>
<path fill="#ff00ff" stroke="#000" stroke-width="3.2" d="M732.2 853.2L743.6 864.6L732.2 875.9L743.6 887.2L732.2 898.6L720.9 887.2L709.6 898.6L698.2 887.2L709.6 875.9L698.2 864.6L709.6 853.2L720.9 864.6Z"/>
<rect x="138.55" y="1.34" width="1333.64" height="1093.86" fill="none" stroke="#000" stroke-width="2.5"/>
<line x1="138.55" y1="1095.20" x2="138.55" y2="1105.70" stroke="#000" stroke-width="2.5"/>
<line x1="376.70" y1="1095.20" x2="376.70" y2="1105.70" stroke="#000" stroke-width="2.5"/>
<line x1="614.85" y1="1095.20" x2="614.85" y2="1105.70" stroke="#000" stroke-width="2.5"/>
<line x1="853.00" y1="1095.20" x2="853.00" y2="1105.70" stroke="#000" stroke-width="2.5"/>
<line x1="1091.15" y1="1095.20" x2="1091.15" y2="1105.70" stroke="#000" stroke-width="2.5"/>
<line x1="1329.30" y1="1095.20" x2="1329.30" y2="1105.70" stroke="#000" stroke-width="2.5"/>
<line x1="138.55" y1="1095.20" x2="128.05" y2="1095.20" stroke="#000" stroke-width="2.5"/>
<line x1="138.55" y1="852.12" x2="128.05" y2="852.12" stroke="#000" stroke-width="2.5"/>
<line x1="138.55" y1="609.04" x2="128.05" y2="609.04" stroke="#000" stroke-width="2.5"/>
<line x1="138.55" y1="365.96" x2="128.05" y2="365.96" stroke="#000" stroke-width="2.5"/>
<line x1="138.55" y1="122.88" x2="128.05" y2="122.88" stroke="#000" stroke-width="2.5"/>
<text x="138.5" y="1168" font-family="'DejaVu Sans', 'Liberation Sans', sans-serif" font-size="68" text-anchor="middle">−0.5</text>
<text x="376.7" y="1168" font-family="'DejaVu Sans', 'Liberation Sans', sans-serif" font-size="68" text-anchor="middle">0.0</text>
<text x="614.9" y="1168" font-family="'DejaVu Sans', 'Liberation Sans', sans-serif" font-size="68" text-anchor="middle">0.5</text>
<text x="853.0" y="1168" font-family="'DejaVu Sans', 'Liberation Sans', sans-serif" font-size="68" text-anchor="middle">1.0</text>
<text x="1091.2" y="1168" font-family="'DejaVu Sans', 'Liberation Sans', sans-serif" font-size="68" text-anchor="middle">1.5</text>
<text x="1329.3" y="1168" font-family="'DejaVu Sans', 'Liberation Sans', sans-serif" font-size="68" text-anchor="middle">2.0</text>
<text x="117.6" y="1121.1" font-family="'DejaVu Sans', 'Liberation Sans', sans-serif" font-size="68" text-anchor="end">0</text>
<text x="117.6" y="878.0" font-family="'DejaVu Sans', 'Liberation Sans', sans-serif" font-size="68" text-anchor="end">2</text>
<text x="117.6" y="634.9" font-family="'DejaVu Sans', 'Liberation Sans', sans-serif" font-size="68" text-anchor="end">4</text>
<text x="117.6" y="391.9" font-family="'DejaVu Sans', 'Liberation Sans', sans-serif" font-size="68" text-anchor="end">6</text>
<text x="117.6" y="148.8" font-family="'DejaVu Sans', 'Liberation Sans', sans-serif" font-size="68" text-anchor="end">8</text>
<text font-family="'DejaVu Sans', 'Liberation Sans', sans-serif" font-size="60" y="1238.4"><tspan x="656.8" font-style="italic">Y</tspan><tspan x="694.8" y="1249.3" font-size="42">105</tspan><tspan x="788" y="1238.4">−</tspan><tspan x="851.4" font-style="italic">J</tspan><tspan x="870.3" y="1249.3" font-size="42">125</tspan></text>
<g transform="translate(47.6 694) rotate(-90)"><text font-family="'DejaVu Sans', 'Liberation Sans', sans-serif" font-size="60" y="0"><tspan x="0" font-style="italic">i</tspan><tspan x="18.4" y="9.5" font-size="42">814</tspan><tspan x="110.2" y="0">−</tspan><tspan x="171.7" font-style="italic">Y</tspan><tspan x="210.4" y="9.5" font-size="42">105</tspan></text></g>
<text x="544.1" y="217.2" font-family="'DejaVu Sans', 'Liberation Sans', sans-serif" font-size="42.8" font-weight="bold" fill="#dc143c">ULAS J1342+0928</text>
<text x="148.9" y="887" font-family="'DejaVu Sans', 'Liberation Sans', sans-serif" font-size="42.3" font-weight="bold" fill="#0000ff">C-5764</text>
<text x="379.1" y="832.8" font-family="'DejaVu Sans', 'Liberation Sans', sans-serif" font-size="42.3" font-weight="bold" fill="#0000ff">C-4966</text>
<text x="745.3" y="912.6" font-family="'DejaVu Sans', 'Liberation Sans', sans-serif" font-size="42.5" font-weight="bold" fill="#ff00ff">C-4636</text>
<rect x="1022.6" y="873.2" width="428.4" height="200.5" rx="10" ry="10" fill="#ffffff" fill-opacity="0.8" stroke="#d6d6d6" stroke-width="2.5"/>
<path fill="#ff4500" stroke="#000" stroke-width="3" d="M1082.3 898.4L1095.1 911.2L1082.3 924.0L1069.5 911.2Z"/>
<circle cx="1082.3" cy="973.8" r="9.2" fill="#ff00ff" stroke="#000" stroke-width="3"/>
<path fill="none" stroke="#ffa500" stroke-width="3" stroke-linejoin="round" d="M1082.3 1025.0L1084.9 1033.1L1093.4 1033.1L1086.6 1038.1L1089.2 1046.2L1082.3 1041.2L1075.4 1046.2L1078.0 1038.1L1071.2 1033.1L1079.7 1033.1Z"/>
<text font-family="'DejaVu Sans', 'Liberation Sans', sans-serif" font-size="43.5" y="921.2"><tspan x="1158.9" font-style="italic">z</tspan><tspan x="1189.2">=</tspan><tspan x="1233.5">7.5</tspan><tspan x="1314.8">QSOs</tspan></text>
<text font-family="'DejaVu Sans', 'Liberation Sans', sans-serif" font-size="43.5" y="983.4"><tspan x="1158.9" font-style="italic">z</tspan><tspan x="1189.2">=</tspan><tspan x="1233.5">7.5</tspan><tspan x="1314.8">LBGs</tspan></text>
<text font-family="'DejaVu Sans', 'Liberation Sans', sans-serif" font-size="44.1" x="1158.4" y="1048.4">MLT Dwarfs</text>
</svg>
</body></html>
